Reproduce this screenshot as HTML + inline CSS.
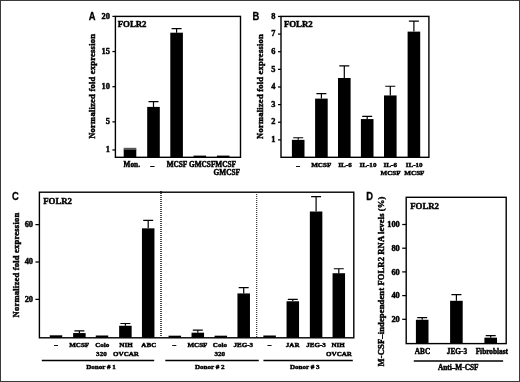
<!DOCTYPE html>
<html><head><meta charset="utf-8"><title>FOLR2 expression figure</title>
<style>
text{stroke:#000;stroke-width:0.45px;}
html,body{margin:0;padding:0;background:#fff;}
body{width:520px;height:382px;overflow:hidden;}
svg{display:block;}
</style></head><body>
<svg width="520" height="382" viewBox="0 0 520 382">
<rect x="0" y="0" width="520" height="382" fill="#fff"/>
<rect x="0.5" y="0.5" width="519" height="381" fill="none" stroke="#3a3a3a" stroke-width="1"/>
<defs><filter id="soft" x="0" y="0" width="100%" height="100%" filterUnits="userSpaceOnUse"><feGaussianBlur stdDeviation="0.4"/></filter></defs>
<g fill="#000" filter="url(#soft)">
<rect x="115.4" y="16.4" width="125.1" height="140.9" fill="none" stroke="#000" stroke-width="1.4"/>
<text transform="translate(88.7 19.8) scale(0.9 1)" font-size="10.4" font-family="Liberation Sans, Arial, sans-serif" font-weight="bold" style="stroke-width:0.3px">A</text>
<text x="117.7" y="27.3" font-size="8.8" text-anchor="start" font-family="Liberation Serif, Times New Roman, serif" font-weight="bold" >FOLR2</text>
<path d="M112.4 16.400000000000006H115.4" stroke="#000" stroke-width="1.25"/>
<text x="109.9" y="18.700000000000006" font-size="8.4" text-anchor="end" font-family="Liberation Serif, Times New Roman, serif" font-weight="bold" >20</text>
<path d="M112.4 51.55H115.4" stroke="#000" stroke-width="1.25"/>
<text x="109.9" y="53.849999999999994" font-size="8.4" text-anchor="end" font-family="Liberation Serif, Times New Roman, serif" font-weight="bold" >15</text>
<path d="M112.4 86.7H115.4" stroke="#000" stroke-width="1.25"/>
<text x="109.9" y="89.0" font-size="8.4" text-anchor="end" font-family="Liberation Serif, Times New Roman, serif" font-weight="bold" >10</text>
<path d="M112.4 121.85H115.4" stroke="#000" stroke-width="1.25"/>
<text x="109.9" y="124.14999999999999" font-size="8.4" text-anchor="end" font-family="Liberation Serif, Times New Roman, serif" font-weight="bold" >5</text>
<path d="M112.4 149.97H115.4" stroke="#000" stroke-width="1.25"/>
<text x="109.9" y="152.27" font-size="8.4" text-anchor="end" font-family="Liberation Serif, Times New Roman, serif" font-weight="bold" >1</text>
<text transform="translate(95.1 86.4) rotate(-90)" font-size="8.6" text-anchor="middle" textLength="104.8" lengthAdjust="spacing" font-family="Liberation Serif, Times New Roman, serif" font-weight="bold">Normalized fold expression</text>
<rect x="123.70" y="149.30" width="12.60" height="8.00" fill="#000"/>
<rect x="123.7" y="147.8" width="12.6" height="2" fill="#555"/>
<rect x="147.20" y="106.90" width="12.60" height="50.40" fill="#000"/>
<path d="M153.50 106.90V101.60M148.50 101.60H158.50" stroke="#000" stroke-width="1.2" fill="none"/>
<rect x="170.30" y="32.70" width="12.60" height="124.60" fill="#000"/>
<path d="M176.60 32.70V28.60M171.60 28.60H181.60" stroke="#000" stroke-width="1.2" fill="none"/>
<rect x="193.50" y="155.60" width="12.60" height="1.70" fill="#000"/>
<rect x="216.90" y="155.60" width="12.60" height="1.70" fill="#000"/>
<text x="131.8" y="166.5" font-size="7.3" text-anchor="middle" font-family="Liberation Serif, Times New Roman, serif" font-weight="bold" >Mon.</text>
<text x="152.4" y="167.6" font-size="7.3" text-anchor="middle" font-family="Liberation Serif, Times New Roman, serif" font-weight="bold" >–</text>
<text x="177" y="166.5" font-size="7.3" text-anchor="middle" font-family="Liberation Serif, Times New Roman, serif" font-weight="bold" >MCSF</text>
<text x="202.2" y="166.5" font-size="7.3" text-anchor="middle" font-family="Liberation Serif, Times New Roman, serif" font-weight="bold" >GMCSF</text>
<text x="225.6" y="166.5" font-size="7.3" text-anchor="middle" font-family="Liberation Serif, Times New Roman, serif" font-weight="bold" >MCSF</text>
<text x="226.8" y="175.4" font-size="7.3" text-anchor="middle" font-family="Liberation Serif, Times New Roman, serif" font-weight="bold" >GMCSF</text>
<rect x="281" y="16.4" width="147.89999999999998" height="140.9" fill="none" stroke="#000" stroke-width="1.4"/>
<text transform="translate(252.6 19.7) scale(0.9 1)" font-size="10.4" font-family="Liberation Sans, Arial, sans-serif" font-weight="bold" style="stroke-width:0.3px">B</text>
<text x="283.9" y="27.2" font-size="8.8" text-anchor="start" font-family="Liberation Serif, Times New Roman, serif" font-weight="bold" >FOLR2</text>
<path d="M278 16.460000000000008H281" stroke="#000" stroke-width="1.25"/>
<text x="275.5" y="18.660000000000007" font-size="8.4" text-anchor="end" font-family="Liberation Serif, Times New Roman, serif" font-weight="bold" >8</text>
<path d="M278 34.09H281" stroke="#000" stroke-width="1.25"/>
<text x="275.5" y="36.290000000000006" font-size="8.4" text-anchor="end" font-family="Liberation Serif, Times New Roman, serif" font-weight="bold" >7</text>
<path d="M278 51.72H281" stroke="#000" stroke-width="1.25"/>
<text x="275.5" y="53.92" font-size="8.4" text-anchor="end" font-family="Liberation Serif, Times New Roman, serif" font-weight="bold" >6</text>
<path d="M278 69.35000000000001H281" stroke="#000" stroke-width="1.25"/>
<text x="275.5" y="71.55000000000001" font-size="8.4" text-anchor="end" font-family="Liberation Serif, Times New Roman, serif" font-weight="bold" >5</text>
<path d="M278 86.98H281" stroke="#000" stroke-width="1.25"/>
<text x="275.5" y="89.18" font-size="8.4" text-anchor="end" font-family="Liberation Serif, Times New Roman, serif" font-weight="bold" >4</text>
<path d="M278 104.61H281" stroke="#000" stroke-width="1.25"/>
<text x="275.5" y="106.81" font-size="8.4" text-anchor="end" font-family="Liberation Serif, Times New Roman, serif" font-weight="bold" >3</text>
<path d="M278 122.24000000000001H281" stroke="#000" stroke-width="1.25"/>
<text x="275.5" y="124.44000000000001" font-size="8.4" text-anchor="end" font-family="Liberation Serif, Times New Roman, serif" font-weight="bold" >2</text>
<path d="M278 139.87H281" stroke="#000" stroke-width="1.25"/>
<text x="275.5" y="142.07" font-size="8.4" text-anchor="end" font-family="Liberation Serif, Times New Roman, serif" font-weight="bold" >1</text>
<text transform="translate(263.4 86.6) rotate(-90)" font-size="8.6" text-anchor="middle" textLength="104.8" lengthAdjust="spacing" font-family="Liberation Serif, Times New Roman, serif" font-weight="bold">Normalized fold expression</text>
<rect x="291.90" y="139.87" width="12.60" height="17.43" fill="#000"/>
<path d="M298.20 139.87V137.75M293.20 137.75H303.20" stroke="#000" stroke-width="1.2" fill="none"/>
<rect x="315.10" y="98.62" width="12.60" height="58.68" fill="#000"/>
<path d="M321.40 98.62V93.68M316.40 93.68H326.40" stroke="#000" stroke-width="1.2" fill="none"/>
<rect x="338.00" y="77.99" width="12.60" height="79.31" fill="#000"/>
<path d="M344.30 77.99V65.82M339.30 65.82H349.30" stroke="#000" stroke-width="1.2" fill="none"/>
<rect x="360.90" y="119.07" width="12.60" height="38.23" fill="#000"/>
<path d="M367.20 119.07V116.42M362.20 116.42H372.20" stroke="#000" stroke-width="1.2" fill="none"/>
<rect x="384.00" y="95.44" width="12.60" height="61.86" fill="#000"/>
<path d="M390.30 95.44V86.27M385.30 86.27H395.30" stroke="#000" stroke-width="1.2" fill="none"/>
<rect x="407.60" y="31.62" width="12.60" height="125.68" fill="#000"/>
<path d="M413.90 31.62V21.04M408.90 21.04H418.90" stroke="#000" stroke-width="1.2" fill="none"/>
<text x="298.0" y="167.5" font-size="7.1" text-anchor="middle" font-family="Liberation Serif, Times New Roman, serif" font-weight="bold" >–</text>
<text x="321.2" y="166.5" font-size="7.1" text-anchor="middle" font-family="Liberation Serif, Times New Roman, serif" font-weight="bold" >MCSF</text>
<text x="345" y="166.5" font-size="7.1" text-anchor="middle" font-family="Liberation Serif, Times New Roman, serif" font-weight="bold" >IL-6</text>
<text x="368" y="166.5" font-size="7.1" text-anchor="middle" font-family="Liberation Serif, Times New Roman, serif" font-weight="bold" >IL-10</text>
<text x="390.3" y="166.5" font-size="7.1" text-anchor="middle" font-family="Liberation Serif, Times New Roman, serif" font-weight="bold" >IL-6</text>
<text x="414.2" y="166.5" font-size="7.1" text-anchor="middle" font-family="Liberation Serif, Times New Roman, serif" font-weight="bold" >IL-10</text>
<text x="390.6" y="175.0" font-size="7.1" text-anchor="middle" font-family="Liberation Serif, Times New Roman, serif" font-weight="bold" >MCSF</text>
<text x="414.4" y="175.0" font-size="7.1" text-anchor="middle" font-family="Liberation Serif, Times New Roman, serif" font-weight="bold" >MCSF</text>
<rect x="39.4" y="192.2" width="314.40000000000003" height="145.60000000000002" fill="none" stroke="#000" stroke-width="1.4"/>
<text transform="translate(12.0 199.9) scale(0.9 1)" font-size="10.4" font-family="Liberation Sans, Arial, sans-serif" font-weight="bold" style="stroke-width:0.3px">C</text>
<text x="43.2" y="203.8" font-size="8.8" text-anchor="start" font-family="Liberation Serif, Times New Roman, serif" font-weight="bold" >FOLR2</text>
<path d="M35.4 224.60000000000002H39.4" stroke="#000" stroke-width="1.25"/>
<text x="33.0" y="227.00000000000003" font-size="8.4" text-anchor="end" font-family="Liberation Serif, Times New Roman, serif" font-weight="bold" >60</text>
<path d="M35.4 262.0H39.4" stroke="#000" stroke-width="1.25"/>
<text x="33.0" y="264.4" font-size="8.4" text-anchor="end" font-family="Liberation Serif, Times New Roman, serif" font-weight="bold" >40</text>
<path d="M35.4 299.4H39.4" stroke="#000" stroke-width="1.25"/>
<text x="33.0" y="301.79999999999995" font-size="8.4" text-anchor="end" font-family="Liberation Serif, Times New Roman, serif" font-weight="bold" >20</text>
<text transform="translate(18.9 265.1) rotate(-90)" font-size="8.6" text-anchor="middle" textLength="104.6" lengthAdjust="spacing" font-family="Liberation Serif, Times New Roman, serif" font-weight="bold">Normalized fold expression</text>
<path d="M161 191V337" stroke="#000" stroke-width="1.4" stroke-dasharray="1 1"/>
<path d="M256.7 192V337" stroke="#222" stroke-width="1.1" stroke-dasharray="1 1"/>
<rect x="49.75" y="335.30" width="12.50" height="2.50" fill="#000"/>
<rect x="73.15" y="333.06" width="12.50" height="4.74" fill="#000"/>
<path d="M79.40 333.06V330.82M74.40 330.82H84.40" stroke="#000" stroke-width="1.2" fill="none"/>
<rect x="95.75" y="335.49" width="12.50" height="2.31" fill="#000"/>
<rect x="119.15" y="325.77" width="12.50" height="12.03" fill="#000"/>
<path d="M125.40 325.77V323.52M120.40 323.52H130.40" stroke="#000" stroke-width="1.2" fill="none"/>
<rect x="141.95" y="228.34" width="12.50" height="109.46" fill="#000"/>
<path d="M148.20 228.34V220.30M143.20 220.30H153.20" stroke="#000" stroke-width="1.2" fill="none"/>
<rect x="168.55" y="335.68" width="12.50" height="2.12" fill="#000"/>
<rect x="191.55" y="332.69" width="12.50" height="5.11" fill="#000"/>
<path d="M197.80 332.69V330.07M192.80 330.07H202.80" stroke="#000" stroke-width="1.2" fill="none"/>
<rect x="214.55" y="335.68" width="12.50" height="2.12" fill="#000"/>
<rect x="237.45" y="293.42" width="12.50" height="44.38" fill="#000"/>
<path d="M243.70 293.42V287.62M238.70 287.62H248.70" stroke="#000" stroke-width="1.2" fill="none"/>
<rect x="263.35" y="335.49" width="12.50" height="2.31" fill="#000"/>
<rect x="286.55" y="301.27" width="12.50" height="36.53" fill="#000"/>
<path d="M292.80 301.27V299.40M287.80 299.40H297.80" stroke="#000" stroke-width="1.2" fill="none"/>
<rect x="309.85" y="211.51" width="12.50" height="126.29" fill="#000"/>
<path d="M316.10 211.51V196.55M311.10 196.55H321.10" stroke="#000" stroke-width="1.2" fill="none"/>
<rect x="332.55" y="273.22" width="12.50" height="64.58" fill="#000"/>
<path d="M338.80 273.22V268.73M333.80 268.73H343.80" stroke="#000" stroke-width="1.2" fill="none"/>
<text x="56" y="347.2" font-size="7.05" text-anchor="middle" font-family="Liberation Serif, Times New Roman, serif" font-weight="bold" >–</text>
<text x="79.2" y="347.2" font-size="7.05" text-anchor="middle" font-family="Liberation Serif, Times New Roman, serif" font-weight="bold" >MCSF</text>
<text x="102.2" y="347.2" font-size="7.05" text-anchor="middle" font-family="Liberation Serif, Times New Roman, serif" font-weight="bold" >Colo</text>
<text x="126" y="347.2" font-size="7.05" text-anchor="middle" font-family="Liberation Serif, Times New Roman, serif" font-weight="bold" >NIH</text>
<text x="148.8" y="347.2" font-size="7.05" text-anchor="middle" font-family="Liberation Serif, Times New Roman, serif" font-weight="bold" >ABC</text>
<text x="101.4" y="356.0" font-size="7.05" text-anchor="middle" font-family="Liberation Serif, Times New Roman, serif" font-weight="bold" >320</text>
<text x="126" y="356.0" font-size="7.05" text-anchor="middle" font-family="Liberation Serif, Times New Roman, serif" font-weight="bold" >OVCAR</text>
<text x="174.3" y="347.2" font-size="7.05" text-anchor="middle" font-family="Liberation Serif, Times New Roman, serif" font-weight="bold" >–</text>
<text x="197.4" y="347.2" font-size="7.05" text-anchor="middle" font-family="Liberation Serif, Times New Roman, serif" font-weight="bold" >MCSF</text>
<text x="219.9" y="347.2" font-size="7.05" text-anchor="middle" font-family="Liberation Serif, Times New Roman, serif" font-weight="bold" >Colo</text>
<text x="243.3" y="347.2" font-size="7.05" text-anchor="middle" font-family="Liberation Serif, Times New Roman, serif" font-weight="bold" >JEG-3</text>
<text x="219.8" y="356.0" font-size="7.05" text-anchor="middle" font-family="Liberation Serif, Times New Roman, serif" font-weight="bold" >320</text>
<text x="269.4" y="347.2" font-size="7.05" text-anchor="middle" font-family="Liberation Serif, Times New Roman, serif" font-weight="bold" >–</text>
<text x="292.7" y="347.2" font-size="7.05" text-anchor="middle" font-family="Liberation Serif, Times New Roman, serif" font-weight="bold" >JAR</text>
<text x="316" y="347.2" font-size="7.05" text-anchor="middle" font-family="Liberation Serif, Times New Roman, serif" font-weight="bold" >JEG-3</text>
<text x="338.1" y="347.2" font-size="7.05" text-anchor="middle" font-family="Liberation Serif, Times New Roman, serif" font-weight="bold" >NIH</text>
<text x="339" y="356.0" font-size="7.05" text-anchor="middle" font-family="Liberation Serif, Times New Roman, serif" font-weight="bold" >OVCAR</text>
<path d="M41.8 360.5H154.2" stroke="#000" stroke-width="1.3"/>
<path d="M165.3 360.5H258.8" stroke="#000" stroke-width="1.3"/>
<path d="M263.4 360.5H352.8" stroke="#000" stroke-width="1.3"/>
<text x="101" y="368.8" font-size="7.05" text-anchor="middle" font-family="Liberation Serif, Times New Roman, serif" font-weight="bold" >Donor # 1</text>
<text x="209.8" y="368.8" font-size="7.05" text-anchor="middle" font-family="Liberation Serif, Times New Roman, serif" font-weight="bold" >Donor # 2</text>
<text x="304.8" y="368.8" font-size="7.05" text-anchor="middle" font-family="Liberation Serif, Times New Roman, serif" font-weight="bold" >Donor # 3</text>
<rect x="406.2" y="197.3" width="100.0" height="146.3" fill="none" stroke="#000" stroke-width="1.4"/>
<text transform="translate(366.3 199.6) scale(0.9 1)" font-size="10.4" font-family="Liberation Sans, Arial, sans-serif" font-weight="bold" style="stroke-width:0.3px">D</text>
<text x="410.2" y="208.7" font-size="8.8" text-anchor="start" font-family="Liberation Serif, Times New Roman, serif" font-weight="bold" >FOLR2</text>
<path d="M402.2 224.5H406.2" stroke="#000" stroke-width="1.25"/>
<text x="399.8" y="227.3" font-size="8.4" text-anchor="end" font-family="Liberation Serif, Times New Roman, serif" font-weight="bold" >100</text>
<path d="M402.2 248.2H406.2" stroke="#000" stroke-width="1.25"/>
<text x="399.8" y="251.0" font-size="8.4" text-anchor="end" font-family="Liberation Serif, Times New Roman, serif" font-weight="bold" >80</text>
<path d="M402.2 271.9H406.2" stroke="#000" stroke-width="1.25"/>
<text x="399.8" y="274.7" font-size="8.4" text-anchor="end" font-family="Liberation Serif, Times New Roman, serif" font-weight="bold" >60</text>
<path d="M402.2 295.6H406.2" stroke="#000" stroke-width="1.25"/>
<text x="399.8" y="298.40000000000003" font-size="8.4" text-anchor="end" font-family="Liberation Serif, Times New Roman, serif" font-weight="bold" >40</text>
<path d="M402.2 319.3H406.2" stroke="#000" stroke-width="1.25"/>
<text x="399.8" y="322.1" font-size="8.4" text-anchor="end" font-family="Liberation Serif, Times New Roman, serif" font-weight="bold" >20</text>
<text transform="translate(384.0 281.5) rotate(-90)" font-size="8.6" text-anchor="middle" textLength="169.8" lengthAdjust="spacing" font-family="Liberation Serif, Times New Roman, serif" font-weight="bold">M-CSF–independent FOLR2 RNA levels (%)</text>
<rect x="415.90" y="319.77" width="12.60" height="23.83" fill="#000"/>
<path d="M422.20 319.77V317.64M417.20 317.64H427.20" stroke="#000" stroke-width="1.2" fill="none"/>
<rect x="450.10" y="300.81" width="12.60" height="42.79" fill="#000"/>
<path d="M456.40 300.81V294.65M451.40 294.65H461.40" stroke="#000" stroke-width="1.2" fill="none"/>
<rect x="484.40" y="337.67" width="12.60" height="5.93" fill="#000"/>
<path d="M490.70 337.67V335.53M485.70 335.53H495.70" stroke="#000" stroke-width="1.2" fill="none"/>
<text x="422.5" y="353.8" font-size="7.3" text-anchor="middle" font-family="Liberation Serif, Times New Roman, serif" font-weight="bold" >ABC</text>
<text x="457" y="353.8" font-size="7.3" text-anchor="middle" font-family="Liberation Serif, Times New Roman, serif" font-weight="bold" >JEG-3</text>
<text x="491.8" y="353.8" font-size="7.3" text-anchor="middle" font-family="Liberation Serif, Times New Roman, serif" font-weight="bold" >Fibroblast</text>
<path d="M413.8 361.0H503.1" stroke="#000" stroke-width="1.3"/>
<text x="458.2" y="369.6" font-size="7.3" text-anchor="middle" font-family="Liberation Serif, Times New Roman, serif" font-weight="bold" >Anti–M-CSF</text>
</g>
</svg>
</body></html>
